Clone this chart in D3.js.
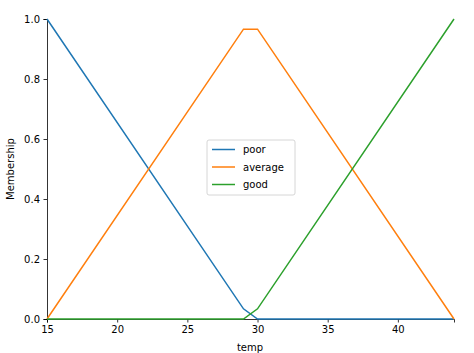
<!DOCTYPE html>
<html>
<head>
<meta charset="utf-8">
<script src="https://cdn.jsdelivr.net/npm/d3@7"></script>
<style>
  body { margin: 0; background: #fff; }
  text { font-family: "DejaVu Sans", sans-serif; }
</style>
</head>
<body>
<div id="chart"></div>
<script>
var tempX = [15, 29, 30, 44];
var poor = [1, 0.034, 0, 0];
var average = [0, 0.966, 0.966, 0];
var good = [0, 0, 0.034, 1];
var seriesNames = ["poor", "average", "good"];
var seriesColors = ["#1f77b4", "#ff7f0e", "#2ca02c"];
var xTicks = [15, 20, 25, 30, 35, 40];
var yTicks = [0, 0.2, 0.4, 0.6, 0.8, 1.0];

var width = 474,
    height = 353;

var svg = d3.select("#chart").append("svg")
    .attr("width", width)
    .attr("height", height);

var x = d3.scaleLinear().domain([15, 44]).range([47, 454]);
var y = d3.scaleLinear().domain([0, 1]).range([319, 19]);

// axes (left and bottom only)
var xAxis = svg.append("g")
    .attr("transform", "translate(0,319)")
    .call(d3.axisBottom(x).tickValues(xTicks).tickSize(3.5).tickPadding(3.5).tickFormat(d3.format("d")));
var yAxis = svg.append("g")
    .attr("transform", "translate(47,0)")
    .call(d3.axisLeft(y).tickValues(yTicks).tickSize(3.5).tickPadding(3.5).tickFormat(d3.format(".1f")));

[xAxis, yAxis].forEach(function(g) {
  g.selectAll("text").attr("font-size", 10).attr("fill", "#000").attr("font-family", "DejaVu Sans");
  g.selectAll("line").attr("stroke", "#000").attr("stroke-width", 0.8);
  g.select(".domain").attr("stroke", "#000").attr("stroke-width", 0.8);
});

var line = d3.line()
    .x(function(d) { return x(d[0]); })
    .y(function(d) { return y(d[1]); });

var data = [poor, average, good];
data.forEach(function(vals, i) {
  svg.append("path")
      .datum(tempX.map(function(t, j) { return [t, vals[j]]; }))
      .attr("fill", "none")
      .attr("stroke", seriesColors[i])
      .attr("stroke-width", 1.5)
      .attr("d", line);
});

// axis labels
svg.append("text")
    .attr("x", 250).attr("y", 351)
    .attr("text-anchor", "middle")
    .attr("font-size", 10)
    .text("temp");
svg.append("text")
    .attr("transform", "translate(14,169) rotate(-90)")
    .attr("text-anchor", "middle")
    .attr("font-size", 10)
    .text("Membership");

// legend
var legend = svg.append("g").attr("transform", "translate(207,140)");
legend.append("rect")
    .attr("width", 88).attr("height", 55)
    .attr("rx", 2)
    .attr("fill", "#fff").attr("fill-opacity", 0.8)
    .attr("stroke", "#ccc").attr("stroke-width", 0.8);
seriesNames.forEach(function(name, i) {
  var yy = 9.5 + i * 17.5;
  legend.append("line")
      .attr("x1", 5).attr("x2", 28)
      .attr("y1", yy).attr("y2", yy)
      .attr("stroke", seriesColors[i]).attr("stroke-width", 1.5);
  legend.append("text")
      .attr("x", 36).attr("y", yy + 3.5)
      .attr("font-size", 10)
      .text(name);
});
</script>
</body>
</html>
